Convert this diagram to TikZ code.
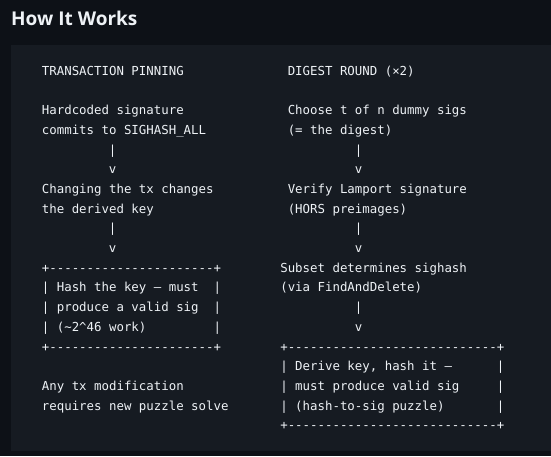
\documentclass[tikz,border=0pt]{standalone}
\usepackage{fontspec}
\setmainfont{Open Sans}
\setmonofont{DejaVu Sans Mono}
\usetikzlibrary{positioning}
\usepackage{xcolor}

\definecolor{pagebg}{HTML}{0D1117}
\definecolor{blockbg}{HTML}{161B22}
\definecolor{codetext}{HTML}{EEF2F6}

% column / row of the monospaced grid
\newcommand{\colpos}[1]{41.7+7.45*#1}
\newcommand{\rowpos}[1]{75.2+19.7*(#1-1)}

\begin{document}
\begin{tikzpicture}[
    x=1pt, y=-1pt,
    heading/.style={anchor=base west, inner sep=0pt, text=codetext, font=\bfseries\fontsize{19}{23}\selectfont},
    code/.style={anchor=base west, inner sep=0pt, text=codetext, font=\ttfamily\frenchspacing\fontsize{12.4}{14}\selectfont}
]
    \fill[pagebg] (0,0) rectangle (551,456);
    \fill[blockbg] (11,45) rectangle (551,451);
    \useasboundingbox (0,0) rectangle (551,456);

    \node[heading] (title) at (11,25) {How It Works};

    % left column
    \node[code] (leftHead) at ({\colpos{0}},{\rowpos{1}}) {TRANSACTION PINNING};
    \node[code] (pinSigA) at ({\colpos{0}},{\rowpos{3}}) {Hardcoded signature};
    \node[code] (pinSigB) at ({\colpos{0}},{\rowpos{4}}) {commits to SIGHASH\_ALL};
    \node[code] (pinBarA) at ({\colpos{9}},{\rowpos{5}}) {|};
    \node[code] (pinTipA) at ({\colpos{9}},{\rowpos{6}}) {v};
    \node[code] (pinKeyA) at ({\colpos{0}},{\rowpos{7}}) {Changing the tx changes};
    \node[code] (pinKeyB) at ({\colpos{0}},{\rowpos{8}}) {the derived key};
    \node[code] (pinBarB) at ({\colpos{9}},{\rowpos{9}}) {|};
    \node[code] (pinTipB) at ({\colpos{9}},{\rowpos{10}}) {v};
    \node[code] (pinBoxTop) at ({\colpos{0}},{\rowpos{11}}) {+----------------------+};
    \node[code] (pinBoxA) at ({\colpos{0}},{\rowpos{12}}) {| Hash the key — must~~|};
    \node[code] (pinBoxB) at ({\colpos{0}},{\rowpos{13}}) {| produce a valid sig~~|};
    \node[code] (pinBoxC) at ({\colpos{0}},{\rowpos{14}}) {| (\textasciitilde2\textasciicircum46 work)~~~~~~~~~|};
    \node[code] (pinBoxBot) at ({\colpos{0}},{\rowpos{15}}) {+----------------------+};
    \node[code] (pinNoteA) at ({\colpos{0}},{\rowpos{17}}) {Any tx modification};
    \node[code] (pinNoteB) at ({\colpos{0}},{\rowpos{18}}) {requires new puzzle solve};

    % right column
    \node[code] (rightHead) at ({\colpos{33}},{\rowpos{1}}) {DIGEST ROUND (×2)};
    \node[code] (digChooseA) at ({\colpos{33}},{\rowpos{3}}) {Choose t of n dummy sigs};
    \node[code] (digChooseB) at ({\colpos{33}},{\rowpos{4}}) {(= the digest)};
    \node[code] (digBarA) at ({\colpos{42}},{\rowpos{5}}) {|};
    \node[code] (digTipA) at ({\colpos{42}},{\rowpos{6}}) {v};
    \node[code] (digVerifyA) at ({\colpos{33}},{\rowpos{7}}) {Verify Lamport signature};
    \node[code] (digVerifyB) at ({\colpos{33}},{\rowpos{8}}) {(HORS preimages)};
    \node[code] (digBarB) at ({\colpos{42}},{\rowpos{9}}) {|};
    \node[code] (digTipB) at ({\colpos{42}},{\rowpos{10}}) {v};
    \node[code] (digSubsetA) at ({\colpos{32}},{\rowpos{11}}) {Subset determines sighash};
    \node[code] (digSubsetB) at ({\colpos{32}},{\rowpos{12}}) {(via FindAndDelete)};
    \node[code] (digBarC) at ({\colpos{42}},{\rowpos{13}}) {|};
    \node[code] (digTipC) at ({\colpos{42}},{\rowpos{14}}) {v};
    \node[code] (digBoxTop) at ({\colpos{32}},{\rowpos{15}}) {+----------------------------+};
    \node[code] (digBoxA) at ({\colpos{32}},{\rowpos{16}}) {| Derive key, hash it —~~~~~~|};
    \node[code] (digBoxB) at ({\colpos{32}},{\rowpos{17}}) {| must produce valid sig~~~~~|};
    \node[code] (digBoxC) at ({\colpos{32}},{\rowpos{18}}) {| (hash-to-sig puzzle)~~~~~~~|};
    \node[code] (digBoxBot) at ({\colpos{32}},{\rowpos{19}}) {+----------------------------+};
\end{tikzpicture}
\end{document}
